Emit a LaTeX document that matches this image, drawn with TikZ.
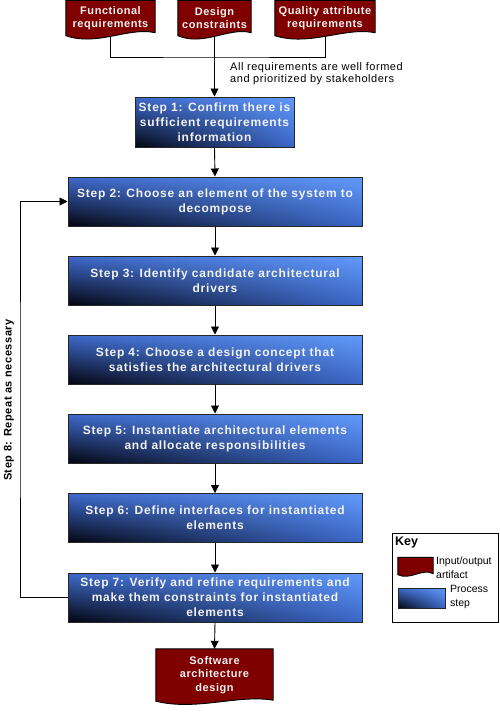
\documentclass[tikz,border=0pt]{standalone}
\usepackage{fontspec}
\setmainfont{Liberation Sans}
\newfontfamily\stepfont[LetterSpace=6.5]{Liberation Sans}
\newfontfamily\docfont[LetterSpace=5]{Liberation Sans}
\newfontfamily\notefont[LetterSpace=5]{Liberation Sans}
\usetikzlibrary{arrows.meta,shadings,calc}
\pgfdeclarelayer{conn}
\pgfdeclarelayer{shapes}
\pgfsetlayers{conn,shapes,main}
\definecolor{docred}{HTML}{800000}
\definecolor{bdark}{HTML}{03050F}
\definecolor{bul}{HTML}{3E69CB}
\definecolor{blr}{HTML}{3B66C8}
\definecolor{blight}{HTML}{619AFA}
\definecolor{steptext}{HTML}{F2F2F2}
\tikzset{
  stepbox/.style={draw=black!85, line width=1pt, inner sep=0pt, align=center,
    text=steptext, font=\stepfont\bfseries\fontsize{12}{15}\selectfont,
    lower left=bdark, upper left=bul, upper right=blight, lower right=blr},
  docnode/.style={inner sep=0pt, align=center, text=steptext,
    font=\docfont\bfseries\fontsize{11}{13.5}\selectfont},
  docfill/.style={fill=docred, draw=black, line width=0.9pt},
  conn/.style={draw=black, line width=0.9pt},
  arr/.style={conn, -{Triangle[length=8pt,width=8pt]}},
  note/.style={inner sep=0pt, align=left, font=\notefont\fontsize{11}{12.5}\selectfont},
  keytext/.style={inner sep=0pt, align=left, font=\fontsize{10.5}{14}\selectfont},
}
\newcommand\docshape[3]{% node, right rise, wave depth
  \begin{pgfonlayer}{shapes}
  \path[docfill] (#1.north west) -- (#1.north east) -- ($(#1.south east)+(0,#2)$)
    .. controls ($(#1.south east)!0.3!(#1.south west)+(0,#2+6pt)$)
    and ($(#1.south east)!0.65!(#1.south west)+(0,-#3)$) .. (#1.south west) -- cycle;
  \end{pgfonlayer}}
\begin{document}
\begin{tikzpicture}[x=1pt,y=-1pt]
\useasboundingbox (0,0) rectangle (500,713);
% input documents
\node[docnode, minimum width=89pt, minimum height=35pt] (f) at (110.5,18) {Functional\\requirements};
\node[docnode, minimum width=73pt, minimum height=35pt] (d) at (214.5,18) {Design\\constraints};
\node[docnode, minimum width=100pt, minimum height=35pt] (q) at (325,18) {Quality attribute\\requirements};
\docshape{f}{3pt}{11pt}
\docshape{d}{3pt}{11pt}
\docshape{q}{3pt}{11pt}
% steps
\node[stepbox, minimum width=159pt, minimum height=50pt] (s1) at (214.5,122) {Step 1: Confirm there is\\sufficient requirements\\information};
\node[stepbox, minimum width=294pt, minimum height=49pt] (s2) at (215,201.5) {Step 2: Choose an element of the system to\\decompose};
\node[stepbox, minimum width=294pt, minimum height=49pt] (s3) at (215,280.5) {Step 3: Identify candidate architectural\\drivers};
\node[stepbox, minimum width=294pt, minimum height=49pt] (s4) at (215,359.5) {Step 4: Choose a design concept that\\satisfies the architectural drivers};
\node[stepbox, minimum width=294pt, minimum height=49pt] (s5) at (215,438.5) {Step 5: Instantiate architectural elements\\and allocate responsibilities};
\node[stepbox, minimum width=294pt, minimum height=49pt] (s6) at (215,518) {Step 6: Define interfaces for instantiated\\elements};
\node[stepbox, minimum width=294pt, minimum height=49pt] (s7) at (215,597.5) {Step 7: Verify and refine requirements and\\make them constraints for instantiated\\elements};
% output document
\node[docnode, minimum width=117pt, minimum height=52pt] (out) at (214.5,675) {Software\\architecture\\design};
\docshape{out}{1pt}{10pt}
% note
\node[note, anchor=north west] (reqnote) at (230,62) {All requirements are well formed\\and prioritized by stakeholders};
% step 8 label
\node[rotate=90, inner sep=0pt, font=\notefont\bfseries\fontsize{11}{13}\selectfont] (s8) at (9,400) {Step 8: Repeat as necessary};
% connectors
\coordinate (bus) at (214.5,57);
\coordinate (loop) at (20,400);
\begin{pgfonlayer}{conn}
\draw[conn] (f.south) |- (bus) -| (q.south);
\draw[arr] (d.south) -- (s1.north);
\end{pgfonlayer}
\draw[arr] (s1.south) -- (s2.north);
\draw[arr] (s2.south) -- (s3.north);
\draw[arr] (s3.south) -- (s4.north);
\draw[arr] (s4.south) -- (s5.north);
\draw[arr] (s5.south) -- (s6.north);
\draw[arr] (s6.south) -- (s7.north);
\draw[arr] (s7.south) -- (out.north);
\draw[arr] (s7.west) -| (loop) |- (s2.west);
% key
\node[draw=black, line width=0.8pt, minimum width=106pt, minimum height=89pt, anchor=north west, inner sep=0pt] (key) at (392,533) {};
\node[anchor=west, inner sep=0pt, font=\bfseries\fontsize{12.5}{14}\selectfont] (keytitle) at (395,542) {Key};
\node[docnode, minimum width=35pt, minimum height=17pt] (keydoc) at (415.5,566) {};
\docshape{keydoc}{1pt}{6pt}
\node[keytext, anchor=north west] (keydoctext) at (436,557) {Input/output\\artifact};
\node[stepbox, line width=0.8pt, minimum width=47pt, minimum height=20pt] (keystep) at (421.5,598) {};
\node[keytext, anchor=north west] (keysteptext) at (450,585) {Process\\step};
\end{tikzpicture}
\end{document}
